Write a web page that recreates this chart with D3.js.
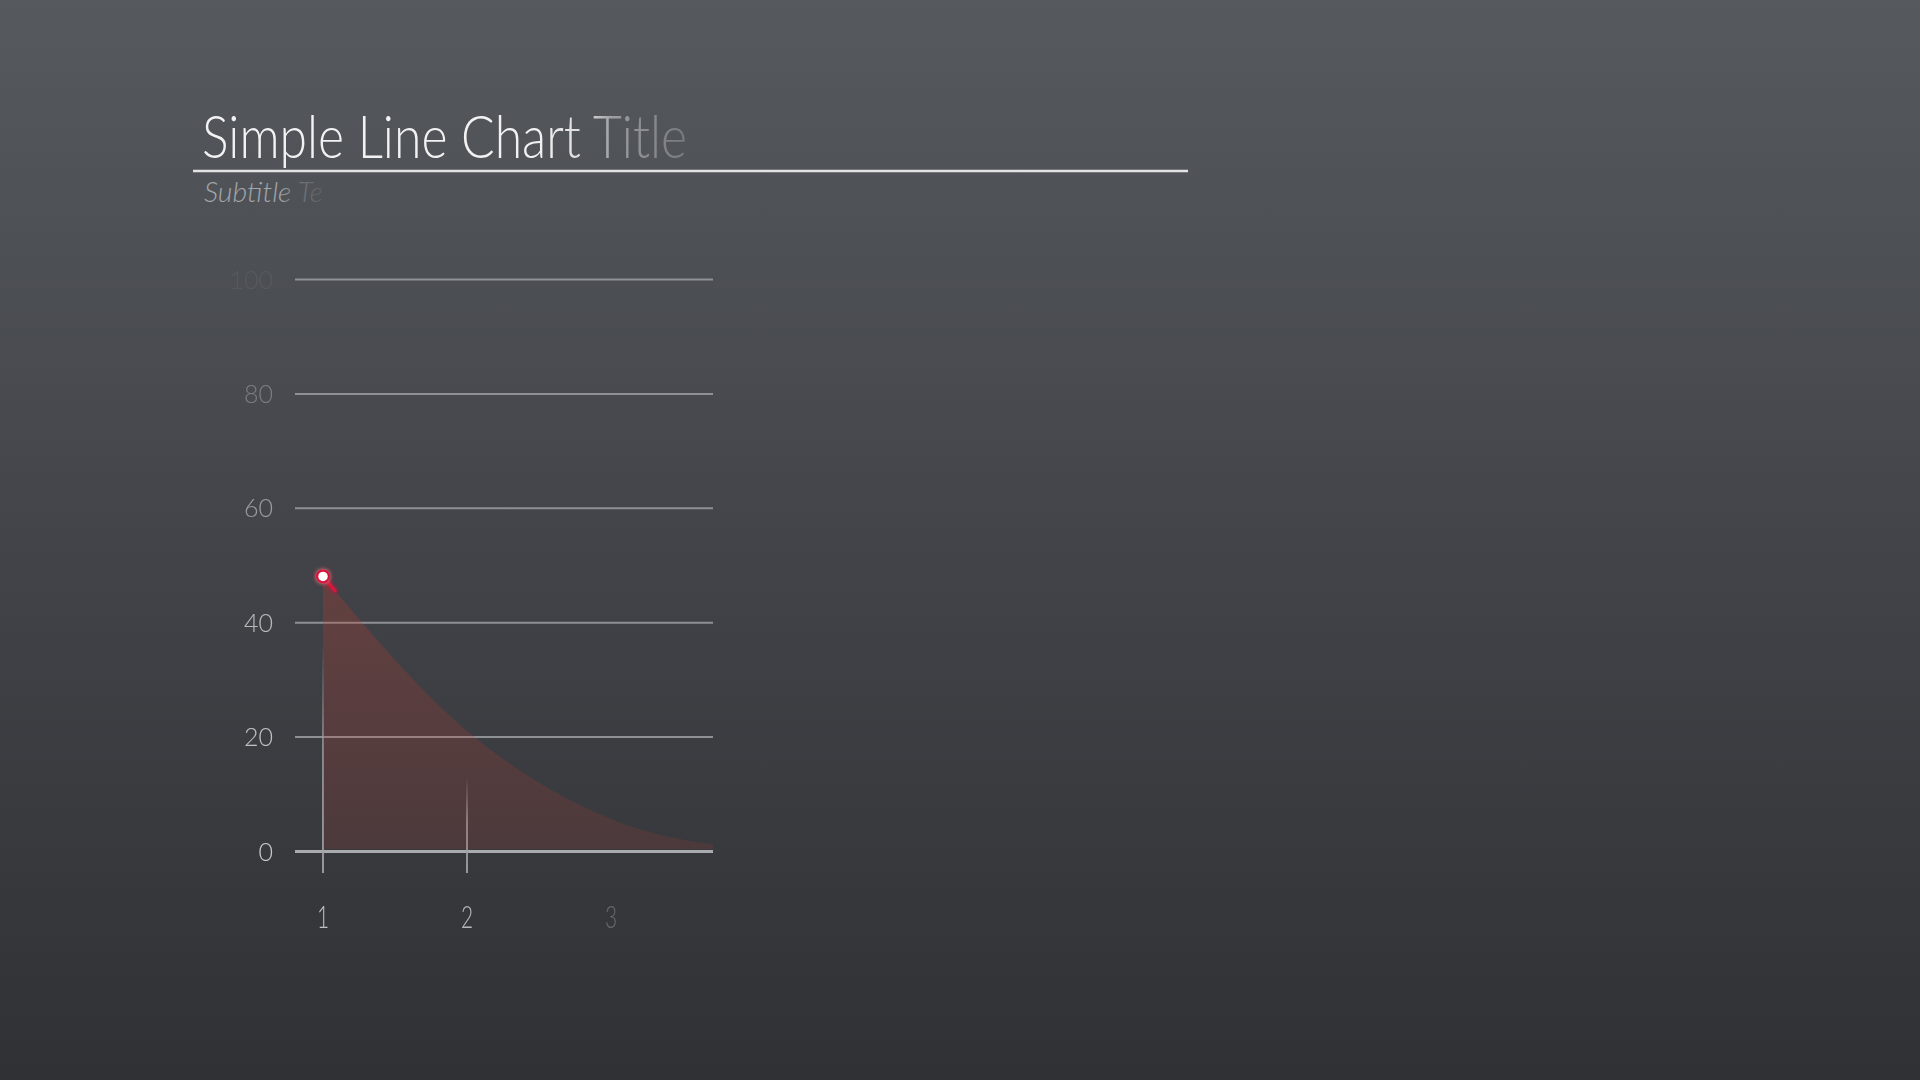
<!DOCTYPE html>
<html>
<head>
  <meta charset="UTF-8">
  <title>simple-line-chart</title>
  <style type="text/css">
    html, body { margin: 0; padding: 0; background: #3f4146; }
    svg { display: block; }
    text { font-family: Lato, "Open Sans", sans-serif; font-weight: 300; }
    .grid line { stroke: #8e9094; stroke-width: 2px; }
    .grid .domain { display: none; }
    .grid text { fill: #e2e2e2; font-size: 25px; }
  </style>
</head>
<body>
  <div class="svg-zone"></div>
  <script src="https://cdn.jsdelivr.net/npm/d3@7"></script>
  <script type="text/javascript">
    var categories = [1, 2, 3, 4];
    var values = [48, 21, 5.6, 0.3];
    var yTicks = [0, 20, 40, 60, 80, 100];
    var xTicks = [1, 2, 3];
    var title = "Simple Line Chart Title";
    var subtitle = "Subtitle Te";

    // state of the intro animation in the frame
    var yLabelAlpha = [0.85, 0.8, 0.75, 0.55, 0.32, 0.07];
    var xLabelAlpha = [0.8, 0.75, 0.28];
    var xTickReach = [36, 13];   // how far up the x ticks have grown (data units)
    var lineDrawn = 19;          // px of the line already drawn

    var width = 1920,
      height = 1080,
      left = 295,
      right = 713;

    var x = d3.scaleLinear()
      .domain([1, 4])
      .range([323, 755]);
    var y = d3.scaleLinear()
      .domain([0, 100])
      .range([851, 279]);

    var svg = d3.select(".svg-zone").append("svg")
      .attr("width", width)
      .attr("height", height);

    var defs = svg.append("defs");

    var bg = defs.append("linearGradient").attr("id", "bg")
      .attr("x1", 0).attr("y1", 0).attr("x2", 0).attr("y2", 1);
    bg.append("stop").attr("offset", 0).attr("stop-color", "#565a5f");
    bg.append("stop").attr("offset", 0.5).attr("stop-color", "#424449");
    bg.append("stop").attr("offset", 1).attr("stop-color", "#303135");

    var tg = defs.append("linearGradient").attr("id", "titleFade")
      .attr("gradientUnits", "userSpaceOnUse")
      .attr("x1", 540).attr("y1", 0).attr("x2", 700).attr("y2", 0);
    tg.append("stop").attr("offset", 0).attr("stop-color", "#f2f2f2");
    tg.append("stop").attr("offset", 0.3).attr("stop-color", "#d8d8d8");
    tg.append("stop").attr("offset", 0.45).attr("stop-color", "#9c9ea1");
    tg.append("stop").attr("offset", 1).attr("stop-color", "#6f7276");

    var sg = defs.append("linearGradient").attr("id", "subFade")
      .attr("gradientUnits", "userSpaceOnUse")
      .attr("x1", 280).attr("y1", 0).attr("x2", 330).attr("y2", 0);
    sg.append("stop").attr("offset", 0).attr("stop-color", "#a3a6a9");
    sg.append("stop").attr("offset", 0.35).attr("stop-color", "#74777b");
    sg.append("stop").attr("offset", 1).attr("stop-color", "#55585d");

    var ag = defs.append("linearGradient").attr("id", "areaFill")
      .attr("gradientUnits", "userSpaceOnUse")
      .attr("x1", 0).attr("y1", y(50)).attr("x2", 0).attr("y2", y(0));
    ag.append("stop").attr("offset", 0).attr("stop-color", "#c63a2c").attr("stop-opacity", 0.27);
    ag.append("stop").attr("offset", 1).attr("stop-color", "#c63a2c").attr("stop-opacity", 0.14);

    var vg = defs.append("linearGradient").attr("id", "tickFade")
      .attr("x1", 0).attr("y1", 0).attr("x2", 0).attr("y2", 1);
    vg.append("stop").attr("offset", 0).attr("stop-color", "#a0a2a5").attr("stop-opacity", 0);
    vg.append("stop").attr("offset", 0.45).attr("stop-color", "#a0a2a5").attr("stop-opacity", 0.75);
    vg.append("stop").attr("offset", 1).attr("stop-color", "#a0a2a5").attr("stop-opacity", 0.9);

    defs.append("clipPath").attr("id", "plotClip")
      .append("rect")
      .attr("x", left).attr("y", y(100) - 20)
      .attr("width", right - left).attr("height", y(0) - y(100) + 20);

    var glow = defs.append("filter").attr("id", "glow")
      .attr("x", "-100%").attr("y", "-100%").attr("width", "300%").attr("height", "300%");
    glow.append("feGaussianBlur").attr("in", "SourceGraphic").attr("stdDeviation", 2.5).attr("result", "b");
    var fm = glow.append("feMerge");
    fm.append("feMergeNode").attr("in", "b");
    fm.append("feMergeNode").attr("in", "SourceGraphic");

    svg.append("rect")
      .attr("width", width)
      .attr("height", height)
      .attr("fill", "url(#bg)");

    // title block
    svg.append("text")
      .attr("x", 202)
      .attr("y", 158)
      .attr("font-size", 60)
      .attr("textLength", 485)
      .attr("lengthAdjust", "spacingAndGlyphs")
      .attr("fill", "url(#titleFade)")
      .text(title);

    svg.append("line")
      .attr("x1", 193).attr("x2", 1188)
      .attr("y1", 171).attr("y2", 171)
      .attr("stroke", "#e4e4e4")
      .attr("stroke-width", 2.5);

    svg.append("text")
      .attr("x", 204)
      .attr("y", 202)
      .attr("font-size", 27)
      .attr("font-style", "italic")
      .attr("textLength", 119)
      .attr("lengthAdjust", "spacingAndGlyphs")
      .attr("fill", "url(#subFade)")
      .text(subtitle);

    // horizontal grid + y labels
    var grid = svg.append("g")
      .attr("class", "grid")
      .attr("transform", "translate(" + left + ",0)")
      .call(d3.axisLeft(y)
        .tickValues(yTicks)
        .tickSize(-(right - left))
        .tickPadding(22)
        .tickFormat(d3.format("d")));

    grid.selectAll(".tick text")
      .attr("dy", "0.36em")
      .style("opacity", function (d, i) { return yLabelAlpha[i]; });

    grid.selectAll(".tick line")
      .filter(function (d) { return d === 0; })
      .style("stroke", "#a9abae")
      .style("stroke-width", "3px");

    // x ticks growing up from below the baseline
    svg.selectAll(".xtick")
      .data(xTickReach)
      .enter().append("rect")
      .attr("class", "xtick")
      .attr("x", function (d, i) { return x(xTicks[i]) - 1; })
      .attr("width", 2)
      .attr("y", function (d) { return y(d); })
      .attr("height", function (d) { return y(0) + 22 - y(d); })
      .attr("fill", "url(#tickFade)");

    svg.selectAll(".xlabel")
      .data(xTicks)
      .enter().append("text")
      .attr("class", "xlabel")
      .attr("text-anchor", "middle")
      .attr("font-size", 29)
      .attr("fill", "#e2e2e2")
      .style("opacity", function (d, i) { return xLabelAlpha[i]; })
      .attr("transform", function (d) { return "translate(" + x(d) + "," + (y(0) + 77) + ") scale(0.72,1.05)"; })
      .text(function (d) { return d; });

    // series
    var pts = categories.map(function (c, i) { return [c, values[i]]; });

    var area = d3.area()
      .x(function (d) { return x(d[0]); })
      .y0(y(0) - 2)
      .y1(function (d) { return y(d[1]); })
      .curve(d3.curveMonotoneX);

    var line = d3.line()
      .x(function (d) { return x(d[0]); })
      .y(function (d) { return y(d[1]); })
      .curve(d3.curveMonotoneX);

    var plot = svg.append("g").attr("clip-path", "url(#plotClip)");

    plot.append("path")
      .datum(pts)
      .attr("d", area)
      .attr("fill", "url(#areaFill)");

    var path = plot.append("path")
      .datum(pts)
      .attr("d", line)
      .attr("fill", "none")
      .attr("stroke", "#d8143c")
      .attr("stroke-width", 3)
      .attr("stroke-linecap", "round")
      .attr("filter", "url(#glow)");
    var total = path.node().getTotalLength();
    path.attr("stroke-dasharray", lineDrawn + " " + total);

    svg.selectAll(".point")
      .data(pts.slice(0, 1))
      .enter().append("circle")
      .attr("class", "point")
      .attr("r", 6)
      .attr("cx", function (d) { return x(d[0]); })
      .attr("cy", function (d) { return y(d[1]); })
      .attr("fill", "#ffffff")
      .attr("stroke", "#d8143c")
      .attr("stroke-width", 2.5)
      .attr("filter", "url(#glow)");
  </script>
</body>
</html>
